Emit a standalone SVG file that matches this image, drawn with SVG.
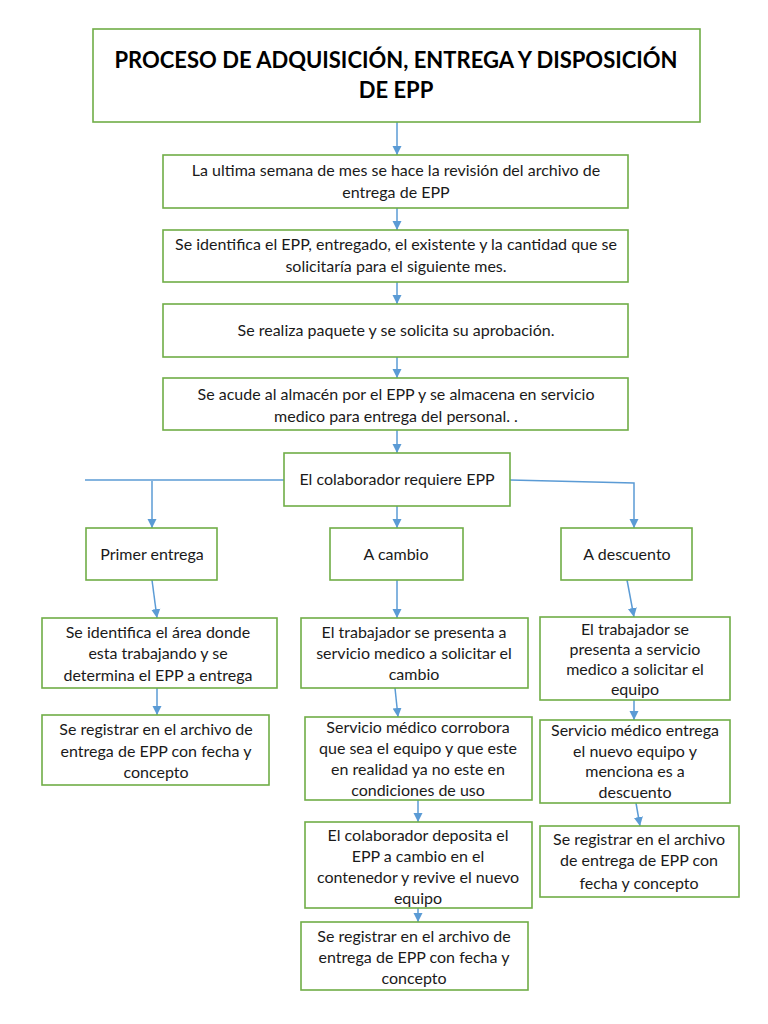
<svg xmlns="http://www.w3.org/2000/svg" width="768" height="1024" viewBox="0 0 768 1024">
<style>
.box{fill:#fff;stroke:#70AD47;stroke-width:1.6}
.t{font-family:Lato,"Liberation Sans",sans-serif;font-size:16px;fill:#1a1a1a;text-anchor:middle}
.title{font-family:Lato,"Liberation Sans",sans-serif;font-size:22px;font-weight:bold;fill:#000;text-anchor:middle}
.c{fill:none;stroke:#5B9BD5;stroke-width:1.5}
</style>
<defs>
<marker id="ah" markerWidth="10" markerHeight="10" refX="9" refY="5" orient="auto" markerUnits="userSpaceOnUse">
<path d="M0,0.5 L9,5 L0,9.5 Z" fill="#5B9BD5"/>
</marker>
</defs>
<rect width="768" height="1024" fill="#fff"/>
<g id="connectors">
<line class="c" x1="397" y1="122" x2="397" y2="155" marker-end="url(#ah)"/>
<line class="c" x1="397" y1="208" x2="397" y2="230" marker-end="url(#ah)"/>
<line class="c" x1="397" y1="282" x2="397" y2="304" marker-end="url(#ah)"/>
<line class="c" x1="397" y1="357" x2="397" y2="378" marker-end="url(#ah)"/>
<line class="c" x1="397" y1="430" x2="397" y2="453" marker-end="url(#ah)"/>
<line class="c" x1="284" y1="480" x2="85" y2="480"/>
<line class="c" x1="152" y1="481" x2="152" y2="528" marker-end="url(#ah)"/>
<line class="c" x1="397" y1="506" x2="397" y2="528" marker-end="url(#ah)"/>
<polyline class="c" points="510,480 634,483 634,528" marker-end="url(#ah)"/>
<line class="c" x1="152" y1="580" x2="157" y2="618" marker-end="url(#ah)"/>
<line class="c" x1="397" y1="580" x2="397" y2="618" marker-end="url(#ah)"/>
<line class="c" x1="627" y1="580" x2="634" y2="617" marker-end="url(#ah)"/>
<line class="c" x1="157" y1="688" x2="157" y2="715" marker-end="url(#ah)"/>
<line class="c" x1="395" y1="688" x2="398" y2="717" marker-end="url(#ah)"/>
<line class="c" x1="418" y1="800" x2="418" y2="822" marker-end="url(#ah)"/>
<line class="c" x1="418" y1="908" x2="418" y2="922" marker-end="url(#ah)"/>
<line class="c" x1="634" y1="700" x2="634" y2="720" marker-end="url(#ah)"/>
<line class="c" x1="636" y1="803" x2="640" y2="826" marker-end="url(#ah)"/>
</g>
<g id="title">
<rect class="box" x="93" y="29" width="607" height="93"/>
<text class="title" x="396" y="68">PROCESO DE ADQUISICIÓN, ENTREGA Y DISPOSICIÓN</text>
<text class="title" x="396" y="98">DE EPP</text>
</g>
<g id="n1">
<rect class="box" x="163" y="155" width="465" height="53"/>
<text class="t" x="396" y="176">La ultima semana de mes se hace la revisión del archivo de</text>
<text class="t" x="396" y="198">entrega de EPP</text>
</g>
<g id="n2">
<rect class="box" x="163" y="230" width="465" height="52"/>
<text class="t" x="396" y="250">Se identifica el EPP, entregado, el existente y la cantidad que se</text>
<text class="t" x="396" y="272">solicitaría para el siguiente mes.</text>
</g>
<g id="n3">
<rect class="box" x="163" y="304" width="465" height="53"/>
<text class="t" x="396" y="336">Se realiza paquete y se solicita su aprobación.</text>
</g>
<g id="n4">
<rect class="box" x="163" y="378" width="465" height="52"/>
<text class="t" x="396" y="400">Se acude al almacén por el EPP y se almacena en servicio</text>
<text class="t" x="396" y="422">medico para entrega del personal. .</text>
</g>
<g id="n5">
<rect class="box" x="284" y="453" width="226" height="53"/>
<text class="t" x="397" y="485">El colaborador requiere EPP</text>
</g>
<g id="b1">
<rect class="box" x="86" y="528" width="131" height="52"/>
<text class="t" x="152" y="560">Primer entrega</text>
</g>
<g id="b2">
<rect class="box" x="330" y="528" width="133" height="52"/>
<text class="t" x="396" y="560">A cambio</text>
</g>
<g id="b3">
<rect class="box" x="561" y="528" width="131" height="52"/>
<text class="t" x="627" y="560">A descuento</text>
</g>
<g id="l1">
<rect class="box" x="42" y="618" width="235" height="70"/>
<text class="t" x="158" y="638">Se identifica el área donde</text>
<text class="t" x="158" y="659">esta trabajando y se</text>
<text class="t" x="158" y="681">determina el EPP a entrega</text>
</g>
<g id="l2">
<rect class="box" x="42" y="715" width="227" height="70"/>
<text class="t" x="156" y="735">Se registrar en el archivo de</text>
<text class="t" x="156" y="757">entrega de EPP con fecha y</text>
<text class="t" x="156" y="778">concepto</text>
</g>
<g id="m1">
<rect class="box" x="301" y="618" width="227" height="70"/>
<text class="t" x="414" y="638">El trabajador se presenta a</text>
<text class="t" x="414" y="659">servicio medico a solicitar el</text>
<text class="t" x="414" y="680">cambio</text>
</g>
<g id="m2">
<rect class="box" x="305" y="717" width="227" height="83"/>
<text class="t" x="418" y="733">Servicio médico corrobora</text>
<text class="t" x="418" y="754">que sea el equipo y que este</text>
<text class="t" x="418" y="775">en realidad ya no este en</text>
<text class="t" x="418" y="796">condiciones de uso</text>
</g>
<g id="m3">
<rect class="box" x="305" y="822" width="227" height="86"/>
<text class="t" x="418" y="841">El colaborador deposita el</text>
<text class="t" x="418" y="862">EPP a cambio en el</text>
<text class="t" x="418" y="883">contenedor y revive el nuevo</text>
<text class="t" x="418" y="904">equipo</text>
</g>
<g id="m4">
<rect class="box" x="301" y="922" width="227" height="68"/>
<text class="t" x="414" y="942">Se registrar en el archivo de</text>
<text class="t" x="414" y="963">entrega de EPP con fecha y</text>
<text class="t" x="414" y="984">concepto</text>
</g>
<g id="r1">
<rect class="box" x="540" y="617" width="190" height="83"/>
<text class="t" x="635" y="635">El trabajador se</text>
<text class="t" x="635" y="655">presenta a servicio</text>
<text class="t" x="635" y="675">medico a solicitar el</text>
<text class="t" x="635" y="695">equipo</text>
</g>
<g id="r2">
<rect class="box" x="540" y="720" width="190" height="83"/>
<text class="t" x="635" y="736">Servicio médico entrega</text>
<text class="t" x="635" y="757">el nuevo equipo y</text>
<text class="t" x="635" y="777">menciona es a</text>
<text class="t" x="635" y="798">descuento</text>
</g>
<g id="r3">
<rect class="box" x="540" y="826" width="199" height="71"/>
<text class="t" x="639" y="845">Se registrar en el archivo</text>
<text class="t" x="639" y="866">de entrega de EPP con</text>
<text class="t" x="639" y="889">fecha y concepto</text>
</g>
</svg>
